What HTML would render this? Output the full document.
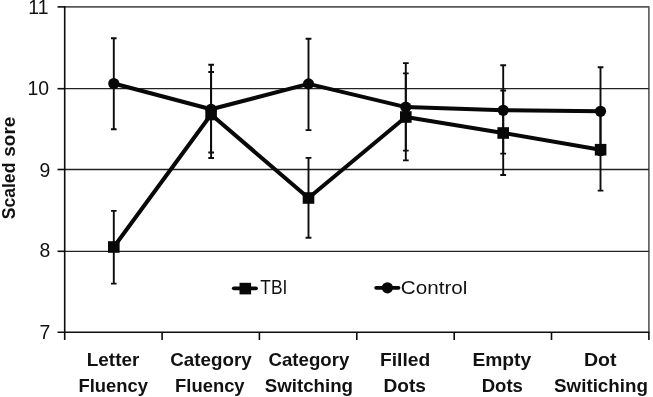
<!DOCTYPE html>
<html><head><meta charset="utf-8"><title>Scaled score chart</title>
<style>
html,body{margin:0;padding:0;background:#fff;}
svg{display:block;}
text{font-family:"Liberation Sans",sans-serif;fill:#111;}
.b{font-weight:bold;}
</style></head><body>
<svg width="653" height="397" viewBox="0 0 653 397">
<rect width="653" height="397" fill="#fff"/>
<path d="M64.7 6.9H648.9V332.2" fill="none" stroke="#585858" stroke-width="1.6" stroke-linejoin="round"/>
<line x1="64.7" y1="88.7" x2="648.9" y2="88.7" stroke="#222" stroke-width="1.3"/>
<line x1="64.7" y1="169.5" x2="648.9" y2="169.5" stroke="#222" stroke-width="1.3"/>
<line x1="64.7" y1="251.3" x2="648.9" y2="251.3" stroke="#222" stroke-width="1.3"/>
<line x1="64.7" y1="6.1" x2="64.7" y2="340.0" stroke="#0c0c0c" stroke-width="1.6"/>
<line x1="57.5" y1="332.2" x2="649.5" y2="332.2" stroke="#0c0c0c" stroke-width="1.6"/>
<line x1="57.5" y1="6.9" x2="64.7" y2="6.9" stroke="#0c0c0c" stroke-width="1.6"/>
<line x1="57.5" y1="88.7" x2="64.7" y2="88.7" stroke="#0c0c0c" stroke-width="1.6"/>
<line x1="57.5" y1="169.5" x2="64.7" y2="169.5" stroke="#0c0c0c" stroke-width="1.6"/>
<line x1="57.5" y1="251.3" x2="64.7" y2="251.3" stroke="#0c0c0c" stroke-width="1.6"/>
<line x1="162.1" y1="332.2" x2="162.1" y2="340.0" stroke="#0c0c0c" stroke-width="1.6"/>
<line x1="259.4" y1="332.2" x2="259.4" y2="340.0" stroke="#0c0c0c" stroke-width="1.6"/>
<line x1="356.8" y1="332.2" x2="356.8" y2="340.0" stroke="#0c0c0c" stroke-width="1.6"/>
<line x1="454.2" y1="332.2" x2="454.2" y2="340.0" stroke="#0c0c0c" stroke-width="1.6"/>
<line x1="551.5" y1="332.2" x2="551.5" y2="340.0" stroke="#0c0c0c" stroke-width="1.6"/>
<line x1="648.9" y1="332.2" x2="648.9" y2="340.0" stroke="#0c0c0c" stroke-width="1.6"/>
<path d="M113.8 38.3V129.3M111.0 38.3H116.6M111.0 129.3H116.6" stroke="#0c0c0c" stroke-width="1.9" fill="none"/>
<path d="M113.8 210.9V283.6M111.0 210.9H116.6M111.0 283.6H116.6" stroke="#0c0c0c" stroke-width="1.9" fill="none"/>
<path d="M211.1 64.8V152.5M208.3 64.8H214.0M208.3 152.5H214.0" stroke="#0c0c0c" stroke-width="1.9" fill="none"/>
<path d="M211.1 72.0V158.0M208.3 72.0H214.0M208.3 158.0H214.0" stroke="#0c0c0c" stroke-width="1.9" fill="none"/>
<path d="M308.5 38.7V130.1M305.6 38.7H311.4M305.6 130.1H311.4" stroke="#0c0c0c" stroke-width="1.9" fill="none"/>
<path d="M308.5 157.9V237.7M305.6 157.9H311.4M305.6 237.7H311.4" stroke="#0c0c0c" stroke-width="1.9" fill="none"/>
<path d="M405.8 63.1V150.6M403.0 63.1H408.7M403.0 150.6H408.7" stroke="#0c0c0c" stroke-width="1.9" fill="none"/>
<path d="M405.8 73.4V160.4M403.0 73.4H408.7M403.0 160.4H408.7" stroke="#0c0c0c" stroke-width="1.9" fill="none"/>
<path d="M503.2 65.3V153.6M500.3 65.3H506.1M500.3 153.6H506.1" stroke="#0c0c0c" stroke-width="1.9" fill="none"/>
<path d="M503.2 90.5V175.0M500.3 90.5H506.1M500.3 175.0H506.1" stroke="#0c0c0c" stroke-width="1.9" fill="none"/>
<path d="M600.5 67.2V155.0M597.7 67.2H603.4M597.7 155.0H603.4" stroke="#0c0c0c" stroke-width="1.9" fill="none"/>
<path d="M600.5 108.7V190.6M597.7 108.7H603.4M597.7 190.6H603.4" stroke="#0c0c0c" stroke-width="1.9" fill="none"/>
<polyline points="113.8,247.0 211.1,114.5 308.5,198.0 405.8,117.0 503.2,133.0 600.5,149.7" fill="none" stroke="#080808" stroke-width="4.0" stroke-linejoin="round"/>
<polyline points="113.8,83.5 211.1,109.3 308.5,83.9 405.8,107.1 503.2,110.3 600.5,111.3" fill="none" stroke="#080808" stroke-width="4.0" stroke-linejoin="round"/>
<rect x="108.0" y="241.2" width="11.6" height="11.6" fill="#080808"/>
<circle cx="113.8" cy="83.5" r="5.6" fill="#080808"/>
<rect x="205.3" y="108.7" width="11.6" height="11.6" fill="#080808"/>
<circle cx="211.1" cy="109.3" r="5.6" fill="#080808"/>
<rect x="302.7" y="192.2" width="11.6" height="11.6" fill="#080808"/>
<circle cx="308.5" cy="83.9" r="5.6" fill="#080808"/>
<rect x="400.0" y="111.2" width="11.6" height="11.6" fill="#080808"/>
<circle cx="405.8" cy="107.1" r="5.6" fill="#080808"/>
<rect x="497.4" y="127.2" width="11.6" height="11.6" fill="#080808"/>
<circle cx="503.2" cy="110.3" r="5.6" fill="#080808"/>
<rect x="594.8" y="143.9" width="11.6" height="11.6" fill="#080808"/>
<circle cx="600.5" cy="111.3" r="5.6" fill="#080808"/>
<line x1="233.8" y1="288.3" x2="256" y2="288.3" stroke="#080808" stroke-width="3.8" stroke-linecap="round"/>
<rect x="239.5" y="282.8" width="11.6" height="11.6" fill="#080808"/>
<text x="260.3" y="294.4" font-size="19.8" textLength="27" lengthAdjust="spacingAndGlyphs">TBI</text>
<line x1="376.2" y1="287.8" x2="398.5" y2="287.8" stroke="#080808" stroke-width="3.8" stroke-linecap="round"/>
<circle cx="387.4" cy="287.8" r="5.6" fill="#080808"/>
<text x="400.8" y="293.8" font-size="19.2" textLength="66.6" lengthAdjust="spacingAndGlyphs">Control</text>
<text x="28.3" y="13.8" font-size="19.4">11</text>
<text x="27.5" y="94.9" font-size="19.4">10</text>
<text x="39.4" y="176.7" font-size="19.4">9</text>
<text x="39.4" y="257.3" font-size="19.4">8</text>
<text x="39.4" y="339.0" font-size="19.4">7</text>
<g transform="translate(15 219.3) rotate(-90)"><text class="b" x="0" y="0" font-size="19" textLength="56.7" lengthAdjust="spacingAndGlyphs">Scaled</text><text class="b" x="62.6" y="0" font-size="19" textLength="40" lengthAdjust="spacingAndGlyphs">sore</text></g>
<text class="b" x="86.7" y="366.4" font-size="18.6" textLength="52.7" lengthAdjust="spacingAndGlyphs">Letter</text>
<text class="b" x="78.5" y="391.8" font-size="18.6" textLength="69.5" lengthAdjust="spacingAndGlyphs">Fluency</text>
<text class="b" x="170.3" y="366.4" font-size="18.6" textLength="81.4" lengthAdjust="spacingAndGlyphs">Category</text>
<text class="b" x="175.1" y="391.8" font-size="18.6" textLength="69.5" lengthAdjust="spacingAndGlyphs">Fluency</text>
<text class="b" x="268.5" y="366.4" font-size="18.6" textLength="80.8" lengthAdjust="spacingAndGlyphs">Category</text>
<text class="b" x="264.8" y="391.8" font-size="18.6" textLength="88.2" lengthAdjust="spacingAndGlyphs">Switching</text>
<text class="b" x="380.0" y="366.4" font-size="18.6" textLength="50.2" lengthAdjust="spacingAndGlyphs">Filled</text>
<text class="b" x="383.5" y="391.8" font-size="18.6" textLength="42.4" lengthAdjust="spacingAndGlyphs">Dots</text>
<text class="b" x="472.4" y="366.4" font-size="18.6" textLength="58.8" lengthAdjust="spacingAndGlyphs">Empty</text>
<text class="b" x="481.7" y="391.8" font-size="18.6" textLength="41.2" lengthAdjust="spacingAndGlyphs">Dots</text>
<text class="b" x="584.0" y="366.4" font-size="18.6" textLength="32.5" lengthAdjust="spacingAndGlyphs">Dot</text>
<text class="b" x="554.1" y="391.8" font-size="18.6" textLength="93.8" lengthAdjust="spacingAndGlyphs">Switiching</text>
</svg></body></html>
